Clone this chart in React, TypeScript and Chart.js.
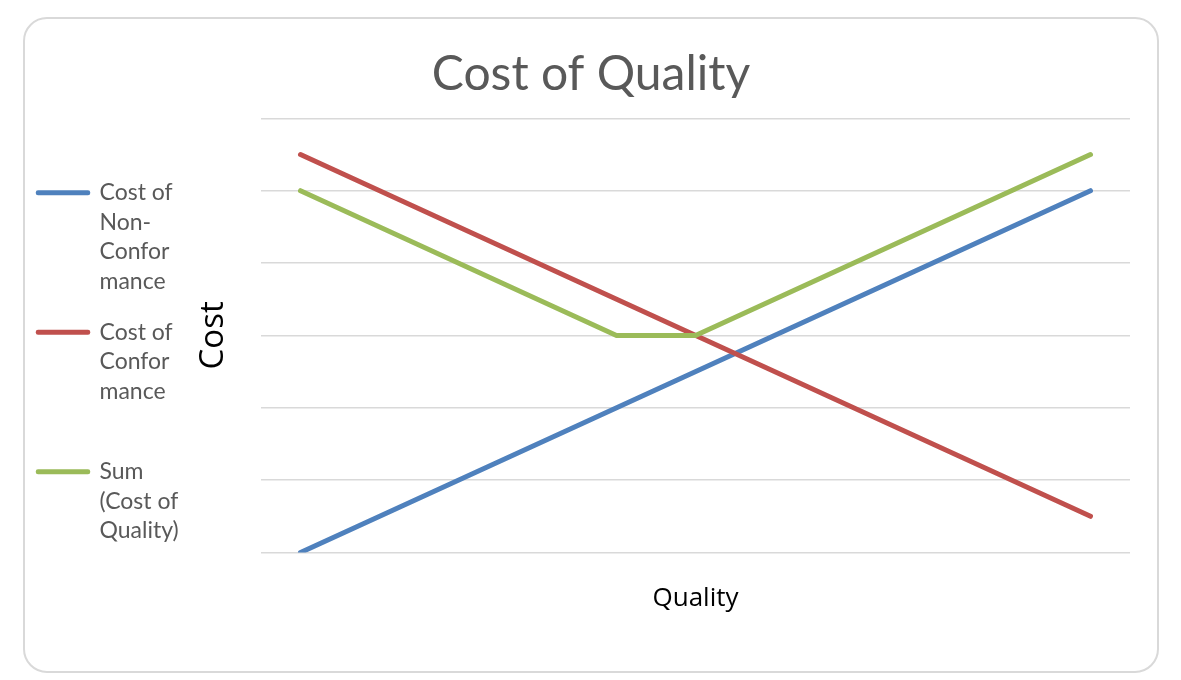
import { useEffect, useRef } from "react";
import { Chart, registerables } from "chart.js";

Chart.register(...registerables);

// ---- data ----
const CATEGORIES = ["1", "2", "3", "4", "5", "6", "7", "8", "9", "10", "11"];
const SERIES_NAMES = ["Cost of Non-Conformance", "Cost of Conformance", "Sum (Cost of Quality)"];
const LEGEND_LINES = [
  ["Cost of", "Non-", "Confor", "mance"],
  ["Cost of", "Confor", "mance", ""],
  ["Sum", "(Cost of", "Quality)"],
];
const NON_CONFORMANCE = [0, null, null, null, null, null, null, null, null, null, 5];
const CONFORMANCE = [5.5, null, null, null, null, null, null, null, null, null, 0.5];
const SUM = [5, null, null, null, 3, 3, null, null, null, null, 5.5];
const Y_MIN = 0;
const Y_MAX = 6;
const Y_STEP = 1;
const TITLE = "Cost of Quality";
const X_TITLE = "Quality";
const Y_TITLE = "Cost";

// ---- styles ----
const COLORS = ["#4F81BD", "#C0504D", "#9BBB59"];
const FONT = "Lato";
const AXIS_FONT = "Open Sans";

export default function App() {
  const ref = useRef<HTMLCanvasElement>(null);

  useEffect(() => {
    if (!ref.current) return;
    Chart.defaults.font.family = FONT;
    const series = [NON_CONFORMANCE, CONFORMANCE, SUM];
    const chart = new Chart(ref.current, {
      type: "line",
      data: {
        labels: CATEGORIES,
        datasets: series.map((values, i) => ({
          label: SERIES_NAMES[i],
          data: values,
          borderColor: COLORS[i],
          backgroundColor: COLORS[i],
          borderWidth: 5,
          borderCapStyle: "round",
          borderJoinStyle: "round",
          pointRadius: 0,
          pointHoverRadius: 0,
          spanGaps: true,
          tension: 0,
          fill: false,
          order: 3 - i,
          yAxisID: "y",
        })),
      },
      options: {
        responsive: true,
        maintainAspectRatio: false,
        animation: false,
        events: [],
        layout: { padding: { left: -8.5, right: -8.5, top: 0, bottom: 0 } },
        plugins: {
          title: {
            display: true,
            text: TITLE,
            color: "#595959",
            font: { family: FONT, size: 48, weight: "normal", lineHeight: "57.6px" },
            padding: { top: 26.9, bottom: 14.8 },
          },
          legend: {
            position: "left",
            align: "start",
            title: {
              display: true,
              text: "",
              font: { size: 10, lineHeight: "10px" },
              padding: { top: 0, bottom: 130.7 },
            },
            labels: {
              color: "#595959",
              font: { family: FONT, size: 23, lineHeight: "29.5px" },
              boxWidth: 50,
              boxHeight: 0.5,
              padding: 21.5,
              sort: (a: any, b: any) => a.datasetIndex - b.datasetIndex,
              generateLabels: (c: any) =>
                Chart.defaults.plugins.legend.labels.generateLabels(c).map((item: any) => ({
                  ...item,
                  text: LEGEND_LINES[item.datasetIndex],
                  fillStyle: COLORS[item.datasetIndex],
                  strokeStyle: COLORS[item.datasetIndex],
                  lineWidth: 4.5,
                  lineCap: "round",
                  lineJoin: "round",
                })),
            },
          },
          tooltip: { enabled: false },
        },
        scales: {
          x: {
            type: "category",
            offset: true,
            grid: { display: false, drawTicks: false },
            border: { display: false },
            ticks: { display: false },
            title: {
              display: true,
              text: X_TITLE,
              color: "#000000",
              font: { family: AXIS_FONT, size: 26, lineHeight: "31px" },
              padding: { top: 30.3, bottom: 57.2 },
            },
          },
          y: {
            type: "linear",
            position: "left",
            min: Y_MIN,
            max: Y_MAX,
            ticks: { display: false, stepSize: Y_STEP },
            grid: { color: "#d9d9d9", lineWidth: 1.5, drawTicks: false },
            border: { display: false },
            title: {
              display: true,
              text: Y_TITLE,
              color: "#000000",
              font: { family: AXIS_FONT, size: 33, lineHeight: "33px" },
              padding: { top: 8, bottom: 20 },
            },
            afterFit: (s: any) => {
              const lw = s.chart.legend ? s.chart.legend.width : 0;
              s.width = Math.max(61, 244.5 - lw);
            },
          },
          yRight: {
            type: "linear",
            position: "right",
            display: true,
            grid: { display: false, drawTicks: false },
            border: { display: false },
            ticks: { display: false },
            afterFit: (s: any) => {
              s.width = 35.5;
            },
          },
        },
      } as any,
    });
    return () => chart.destroy();
  }, []);

  return (
    <div
      style={{
        position: "absolute",
        left: 23,
        top: 17,
        width: 1136,
        height: 656,
        border: "2px solid #d9d9d9",
        borderRadius: 24,
        boxSizing: "border-box",
        background: "#ffffff",
      }}
    >
      <div style={{ position: "relative", width: 1132, height: 652 }}>
        <canvas ref={ref} />
      </div>
    </div>
  );
}
